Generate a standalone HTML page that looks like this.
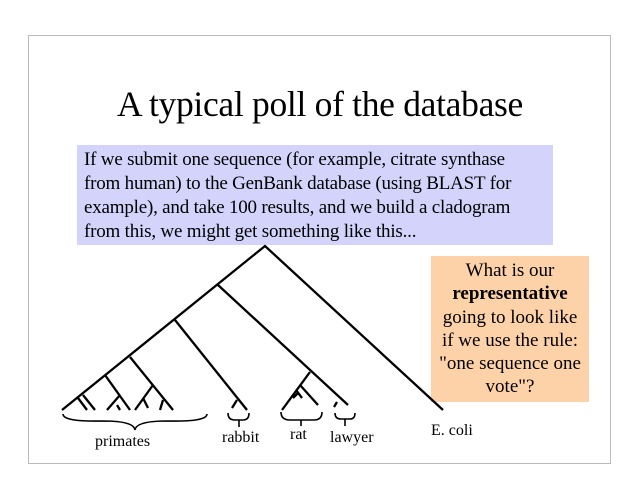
<!DOCTYPE html>
<html><head><meta charset="utf-8"><style>
body{margin:0;width:638px;height:493px;background:#fff;position:relative;overflow:hidden;font-family:"Liberation Serif",serif;}
.frame{position:absolute;left:28px;top:35px;width:581px;height:427px;border:1px solid #bbb;}
.title{position:absolute;left:0;width:640px;top:84px;text-align:center;font-size:35.5px;line-height:40px;letter-spacing:-0.3px;}
.blue{position:absolute;left:77px;top:145px;width:476px;height:100px;background:#d3d3fb;}
.blue div{position:absolute;left:7px;top:3px;font-size:19px;line-height:24px;white-space:nowrap;letter-spacing:-0.2px;}
.orange{position:absolute;left:431px;top:256px;width:158px;height:146px;background:#fdd2a8;text-align:center;font-size:19px;line-height:23.3px;padding-top:3px;box-sizing:border-box;white-space:nowrap;}
.orange div{margin-left:-10px;margin-right:-10px;}
svg{position:absolute;left:0;top:0;}
.l{position:absolute;font-size:16px;}
</style></head><body>
<div class="frame"></div>
<div class="title">A typical poll of the database</div>
<div class="blue"><div>If we submit one sequence (for example, citrate synthase<br>from human) to the GenBank database (using BLAST for<br>example), and take 100 results, and we build a cladogram<br>from this, we might get something like this...</div></div>
<div class="orange"><div>What is our<br><b>representative</b><br>going to look like<br>if we use the rule:<br>"one sequence one<br>vote"?</div></div>
<svg width="638" height="493" stroke="#000" stroke-width="2.3" fill="none">
<path d="M62 410 L265 246 L443 410"/>
<path d="M218 285 L348 405"/>
<path d="M175 320 L247 410"/>
<path d="M237 400 L232 408"/>
<path d="M130 357 L173 410"/>
<path d="M153 385 L135 410 M143 398 L148 408 M163 400 L160 410"/>
<path d="M105 375 L130 410 M120 395 L107 410 M117 405 L120 410"/>
<path d="M78 398 L87 410 M83 395 L95 410"/>
<path d="M310 372 L282 410 M300 385 L318 405 M296 390 L302 398 M293 398 L298 393"/>
<path d="M337 402 L334 407"/>
<path d="M63 414 q0 8 40 7 q31 0 32 9 q1 -9 32 -9 q40 1 40 -7" stroke-width="1.6"/>
<path d="M228 413 q0 7 7 7 h4 v7 M239 420 h4 q6 0 6 -7" stroke-width="1.6"/>
<path d="M281 412 q0 8 9 8 h11 v6 M301 420 h13 q8 0 8 -8" stroke-width="1.6"/>
<path d="M335 413 q0 6 6 6 h4 v7 M345 419 h5 q5 0 5 -6" stroke-width="1.6"/>
</svg>
<div class="l" style="left:95px;top:433px">primates</div>
<div class="l" style="left:222px;top:429px">rabbit</div>
<div class="l" style="left:290px;top:426px">rat</div>
<div class="l" style="left:330px;top:429px">lawyer</div>
<div class="l" style="left:431px;top:422px">E. coli</div>
</body></html>
